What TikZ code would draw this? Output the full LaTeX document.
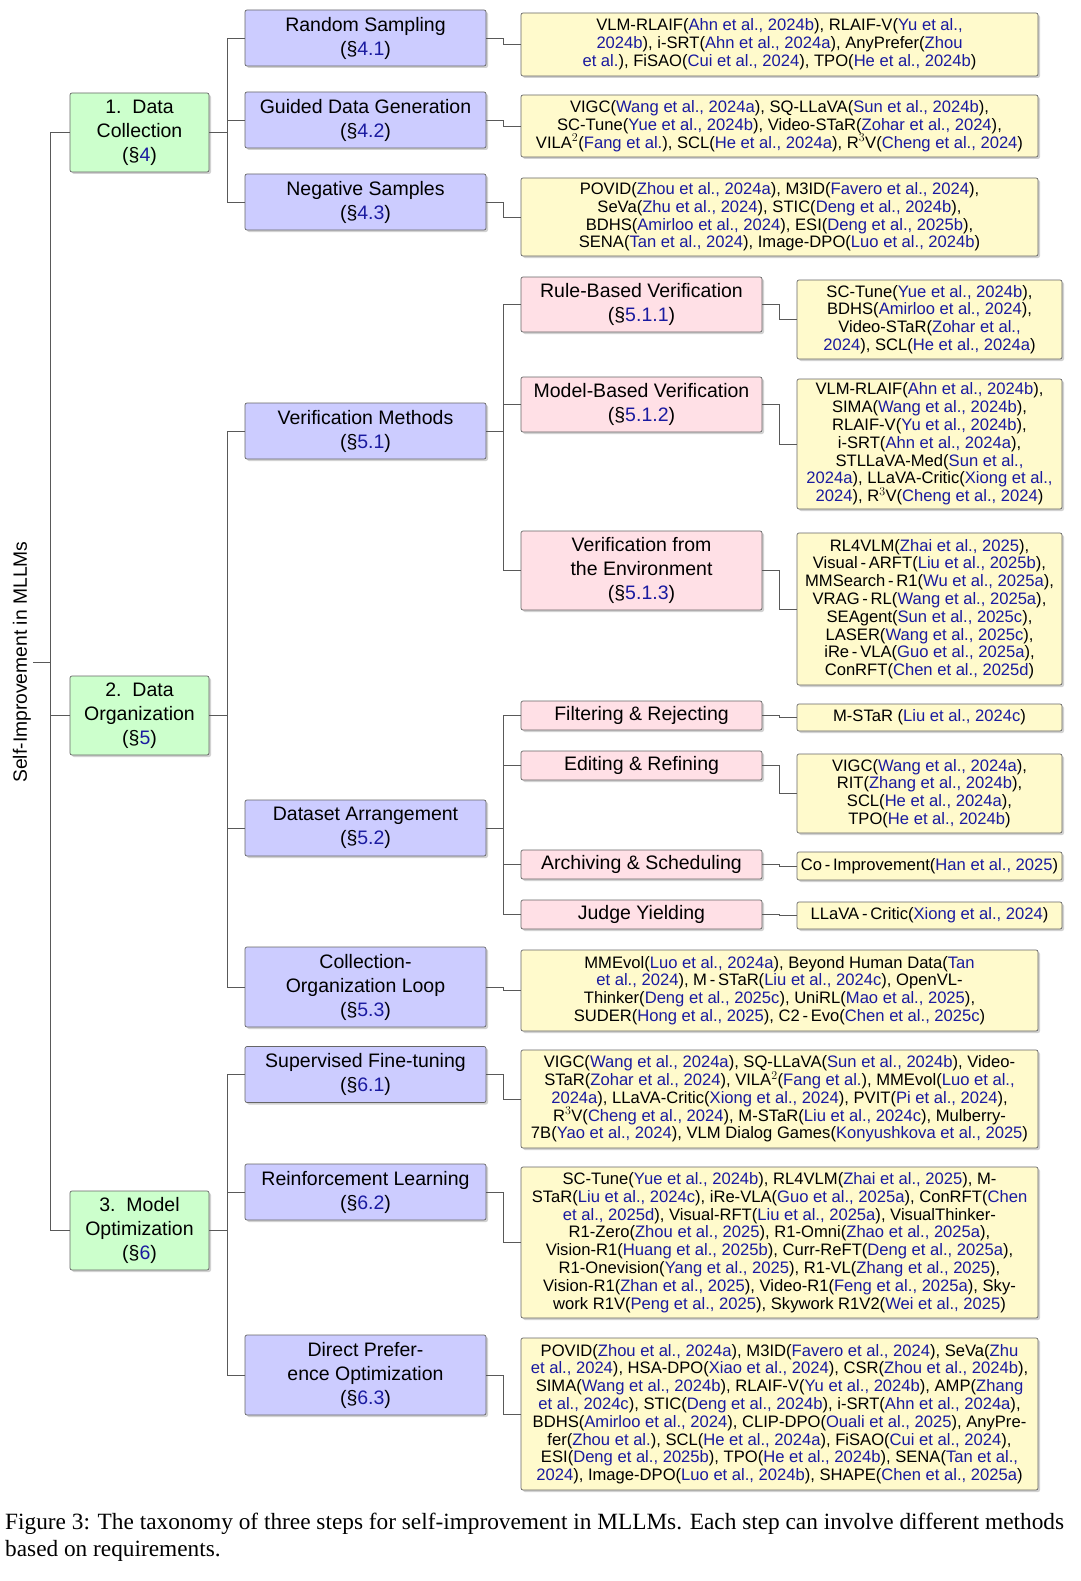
\documentclass[tikz,border=0pt]{standalone}
\usepackage{fontspec}
\setmainfont{Liberation Sans}
\newfontfamily\capfont{Liberation Serif}
\usetikzlibrary{shadows}
\definecolor{citeblue}{HTML}{1A1AA0}
\definecolor{gfill}{HTML}{CCFFCC}
\definecolor{bfill}{HTML}{CCCCFF}
\definecolor{pfill}{HTML}{FFE0E6}
\definecolor{yfill}{HTML}{FFFACC}
\newcommand\cb[1]{\textcolor{citeblue}{#1}}
\begin{document}
\begin{tikzpicture}[x=1pt,y=-1pt,
 box/.style={draw=black!60, line width=0.7pt, rounded corners=2pt, align=center, inner sep=0pt,
   drop shadow={shadow xshift=2pt,shadow yshift=-2pt,fill=black!35}},
 big/.style={box,font=\fontsize{19.5}{24}\selectfont},
 g/.style={big,fill=gfill,minimum width=139pt},
 b/.style={big,fill=bfill,minimum width=241pt},
 p/.style={big,fill=pfill,minimum width=241pt},
 lf/.style={box,fill=yfill,font=\fontsize{16.6}{17.8}\selectfont},
 yw/.style={lf,minimum width=517pt},
 yn/.style={lf,minimum width=265pt},
 ed/.style={draw=black!65,line width=0.8pt}]

\node[rotate=90,anchor=south,font=\fontsize{19.3}{22}\selectfont,inner sep=2pt] (root) at (33,662) {Self-Improvement in MLLMs};

\node[g,minimum height=79pt] (g1) at (139.5,132.5) {1.\ \ Data\\Collection\\(§\cb{4})};
\node[g,minimum height=79pt] (g2) at (139.5,715.5) {2.\ \ Data\\Organization\\(§\cb{5})};
\node[g,minimum height=79pt] (g3) at (139.5,1230.5) {3.\ \ Model\\Optimization\\(§\cb{6})};

\node[b,minimum height=56pt] (b1) at (365.5,38) {Random Sampling\\(§\cb{4.1})};
\node[b,minimum height=56pt] (b2) at (365.5,120) {Guided Data Generation\\(§\cb{4.2})};
\node[b,minimum height=56pt] (b3) at (365.5,202) {Negative Samples\\(§\cb{4.3})};
\node[b,minimum height=56pt] (b4) at (365.5,431) {Verification Methods\\(§\cb{5.1})};
\node[b,minimum height=56pt] (b5) at (365.5,828) {Dataset Arrangement\\(§\cb{5.2})};
\node[b,minimum height=80pt] (b6) at (365.5,987) {Collection-\\Organization Loop\\(§\cb{5.3})};
\node[b,minimum height=56pt] (b7) at (365.5,1074.5) {Supervised Fine-tuning\\(§\cb{6.1})};
\node[b,minimum height=56pt] (b8) at (365.5,1192) {Reinforcement Learning\\(§\cb{6.2})};
\node[b,minimum height=80pt] (b9) at (365.5,1375) {Direct Prefer-\\ence Optimization\\(§\cb{6.3})};

\node[p,minimum height=55pt] (p1) at (641.5,304.5) {Rule-Based Verification\\(§\cb{5.1.1})};
\node[p,minimum height=55pt] (p2) at (641.5,404.5) {Model-Based Verification\\(§\cb{5.1.2})};
\node[p,minimum height=79pt] (p3) at (641.5,570.5) {Verification from\\the Environment\\(§\cb{5.1.3})};
\node[p,minimum height=29pt] (p4) at (641.5,715.5) {Filtering \& Rejecting};
\node[p,minimum height=29pt] (p5) at (641.5,765.5) {Editing \& Refining};
\node[p,minimum height=29pt] (p6) at (641.5,864.5) {Archiving \& Scheduling};
\node[p,minimum height=29pt] (p7) at (641.5,914.5) {Judge Yielding};

\node[yw,minimum height=63pt] (y1) at (779.5,44.5) {VLM-RLAIF(\cb{Ahn et al., 2024b}), RLAIF-V(\cb{Yu et al.,}\\\cb{2024b}), i-SRT(\cb{Ahn et al., 2024a}), AnyPrefer(\cb{Zhou}\\\cb{et al.}), FiSAO(\cb{Cui et al., 2024}), TPO(\cb{He et al., 2024b})};
\node[yw,minimum height=62pt] (y2) at (779.5,126) {VIGC(\cb{Wang et al., 2024a}), SQ-LLaVA(\cb{Sun et al., 2024b}),\\SC-Tune(\cb{Yue et al., 2024b}), Video-STaR(\cb{Zohar et al., 2024}),\\VILA$^2$(\cb{Fang et al.}), SCL(\cb{He et al., 2024a}), R$^3$V(\cb{Cheng et al., 2024})};
\node[yw,minimum height=78pt] (y3) at (779.5,217) {POVID(\cb{Zhou et al., 2024a}), M3ID(\cb{Favero et al., 2024}),\\SeVa(\cb{Zhu et al., 2024}), STIC(\cb{Deng et al., 2024b}),\\BDHS(\cb{Amirloo et al., 2024}), ESI(\cb{Deng et al., 2025b}),\\SENA(\cb{Tan et al., 2024}), Image-DPO(\cb{Luo et al., 2024b})};
\node[yn,minimum height=79pt] (y4) at (929.5,319.5) {SC-Tune(\cb{Yue et al., 2024b}),\\BDHS(\cb{Amirloo et al., 2024}),\\Video-STaR(\cb{Zohar et al.,}\\\cb{2024}), SCL(\cb{He et al., 2024a})};
\node[yn,minimum height=130pt] (y5) at (929.5,444) {VLM-RLAIF(\cb{Ahn et al., 2024b}),\\SIMA(\cb{Wang et al., 2024b}),\\RLAIF-V(\cb{Yu et al., 2024b}),\\i-SRT(\cb{Ahn et al., 2024a}),\\STLLaVA-Med(\cb{Sun et al.,}\\\cb{2024a}), LLaVA-Critic(\cb{Xiong et al.,}\\\cb{2024}), R$^3$V(\cb{Cheng et al., 2024})};
\node[yn,minimum height=152pt] (y6) at (929.5,609) {RL4VLM(\cb{Zhai et al., 2025}),\\Visual\,-\,ARFT(\cb{Liu et al., 2025b}),\\MMSearch\,-\,R1(\cb{Wu et al., 2025a}),\\VRAG\,-\,RL(\cb{Wang et al., 2025a}),\\SEAgent(\cb{Sun et al., 2025c}),\\LASER(\cb{Wang et al., 2025c}),\\iRe\,-\,VLA(\cb{Guo et al., 2025a}),\\ConRFT(\cb{Chen et al., 2025d})};
\node[yn,minimum height=27pt] (y7) at (929.5,717.5) {M-STaR (\cb{Liu et al., 2024c})};
\node[yn,minimum height=79pt] (y8) at (929.5,793.5) {VIGC(\cb{Wang et al., 2024a}),\\RIT(\cb{Zhang et al., 2024b}),\\SCL(\cb{He et al., 2024a}),\\TPO(\cb{He et al., 2024b})};
\node[yn,minimum height=28pt] (y9) at (929.5,866) {Co\,-\,Improvement(\cb{Han et al., 2025})};
\node[yn,minimum height=27pt] (y10) at (929.5,915.5) {LLaVA\,-\,Critic(\cb{Xiong et al., 2024})};
\node[yw,minimum height=81pt] (y11) at (779.5,990.5) {MMEvol(\cb{Luo et al., 2024a}), Beyond Human Data(\cb{Tan}\\\cb{et al., 2024}), M\,-\,STaR(\cb{Liu et al., 2024c}), OpenVL-\\Thinker(\cb{Deng et al., 2025c}), UniRL(\cb{Mao et al., 2025}),\\SUDER(\cb{Hong et al., 2025}), C2\,-\,Evo(\cb{Chen et al., 2025c})};
\node[yw,minimum height=98pt] (y12) at (779.5,1099) {VIGC(\cb{Wang et al., 2024a}), SQ-LLaVA(\cb{Sun et al., 2024b}), Video-\\STaR(\cb{Zohar et al., 2024}), VILA$^2$(\cb{Fang et al.}), MMEvol(\cb{Luo et al.,}\\\cb{2024a}), LLaVA-Critic(\cb{Xiong et al., 2024}), PVIT(\cb{Pi et al., 2024}),\\R$^3$V(\cb{Cheng et al., 2024}), M-STaR(\cb{Liu et al., 2024c}), Mulberry-\\7B(\cb{Yao et al., 2024}), VLM Dialog Games(\cb{Konyushkova et al., 2025})};
\node[yw,minimum height=151pt] (y13) at (779.5,1242.5) {SC-Tune(\cb{Yue et al., 2024b}), RL4VLM(\cb{Zhai et al., 2025}), M-\\STaR(\cb{Liu et al., 2024c}), iRe-VLA(\cb{Guo et al., 2025a}), ConRFT(\cb{Chen}\\\cb{et al., 2025d}), Visual-RFT(\cb{Liu et al., 2025a}), VisualThinker-\\R1-Zero(\cb{Zhou et al., 2025}), R1-Omni(\cb{Zhao et al., 2025a}),\\Vision-R1(\cb{Huang et al., 2025b}), Curr-ReFT(\cb{Deng et al., 2025a}),\\R1-Onevision(\cb{Yang et al., 2025}), R1-VL(\cb{Zhang et al., 2025}),\\Vision-R1(\cb{Zhan et al., 2025}), Video-R1(\cb{Feng et al., 2025a}), Sky-\\work R1V(\cb{Peng et al., 2025}), Skywork R1V2(\cb{Wei et al., 2025})};
\node[yw,minimum height=152pt] (y14) at (779.5,1414) {POVID(\cb{Zhou et al., 2024a}), M3ID(\cb{Favero et al., 2024}), SeVa(\cb{Zhu}\\\cb{et al., 2024}), HSA-DPO(\cb{Xiao et al., 2024}), CSR(\cb{Zhou et al., 2024b}),\\SIMA(\cb{Wang et al., 2024b}), RLAIF-V(\cb{Yu et al., 2024b}), AMP(\cb{Zhang}\\\cb{et al., 2024c}), STIC(\cb{Deng et al., 2024b}), i-SRT(\cb{Ahn et al., 2024a}),\\BDHS(\cb{Amirloo et al., 2024}), CLIP-DPO(\cb{Ouali et al., 2025}), AnyPre-\\fer(\cb{Zhou et al.}), SCL(\cb{He et al., 2024a}), FiSAO(\cb{Cui et al., 2024}),\\ESI(\cb{Deng et al., 2025b}), TPO(\cb{He et al., 2024b}), SENA(\cb{Tan et al.,}\\\cb{2024}), Image-DPO(\cb{Luo et al., 2024b}), SHAPE(\cb{Chen et al., 2025a})};

% connectors
\foreach \c in {g1,g2,g3} \draw[ed] (root.south) -- ++(17,0) |- (\c.west);
\foreach \c in {b1,b2,b3} \draw[ed] (g1.east) -- ++(18,0) |- (\c.west);
\foreach \c in {b4,b5,b6} \draw[ed] (g2.east) -- ++(18,0) |- (\c.west);
\foreach \c in {b7,b8,b9} \draw[ed] (g3.east) -- ++(18,0) |- (\c.west);
\foreach \c in {p1,p2,p3} \draw[ed] (b4.east) -- ++(17,0) |- (\c.west);
\foreach \c in {p4,p5,p6,p7} \draw[ed] (b5.east) -- ++(17,0) |- (\c.west);
\foreach \a/\c in {b1/y1,b2/y2,b3/y3,b6/y11,b7/y12,b8/y13,b9/y14} \draw[ed] (\a.east) -- ++(17,0) |- (\c.west);
\foreach \a/\c in {p1/y4,p2/y5,p3/y6,p4/y7,p5/y8,p6/y9,p7/y10} \draw[ed] (\a.east) -- ++(17,0) |- (\c.west);

\node[anchor=north west,align=left,inner sep=0pt,font=\capfont\fontsize{23.3}{27}\selectfont] (cap) at (5,1513)
 {Figure 3: The taxonomy of three steps for self-improvement in MLLMs. Each step can involve different methods\\based on requirements.};
\pgfresetboundingbox
\useasboundingbox (0,0) rectangle (1080,1581);
\end{tikzpicture}
\end{document}
